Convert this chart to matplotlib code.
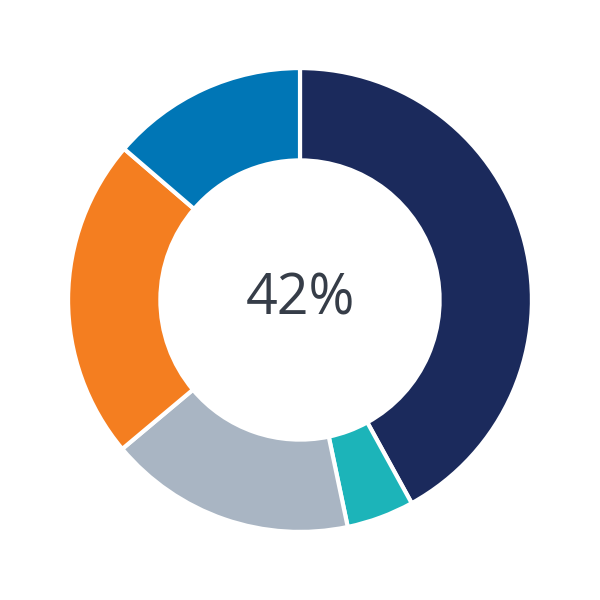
import matplotlib
matplotlib.use("Agg")
import matplotlib.pyplot as plt

# data, clockwise from the top
labels = ["Navy", "Teal", "Gray", "Orange", "Blue"]
shares = [42, 4.7, 17.2, 22.4, 13.7]
colors = ["#1b2a5c", "#1cb4b9", "#a9b5c3", "#f47e20", "#0076b6"]
center_text = "42%"

fig = plt.figure(figsize=(6, 6), dpi=100)
ax = fig.add_axes([0, 0, 1, 1])

ax.pie(shares, colors=colors, startangle=90, counterclock=False,
       radius=1.005,
       wedgeprops=dict(width=0.4, edgecolor="white", linewidth=3))

ax.text(0, 0, center_text, ha="center", va="center", fontsize=40,
        color="#363d48", family="Open Sans")

ax.set_xlim(-1.3, 1.3)
ax.set_ylim(-1.3, 1.3)
ax.set_aspect("equal")
ax.axis("off")

fig.savefig("out.png", dpi=100, facecolor="white")
